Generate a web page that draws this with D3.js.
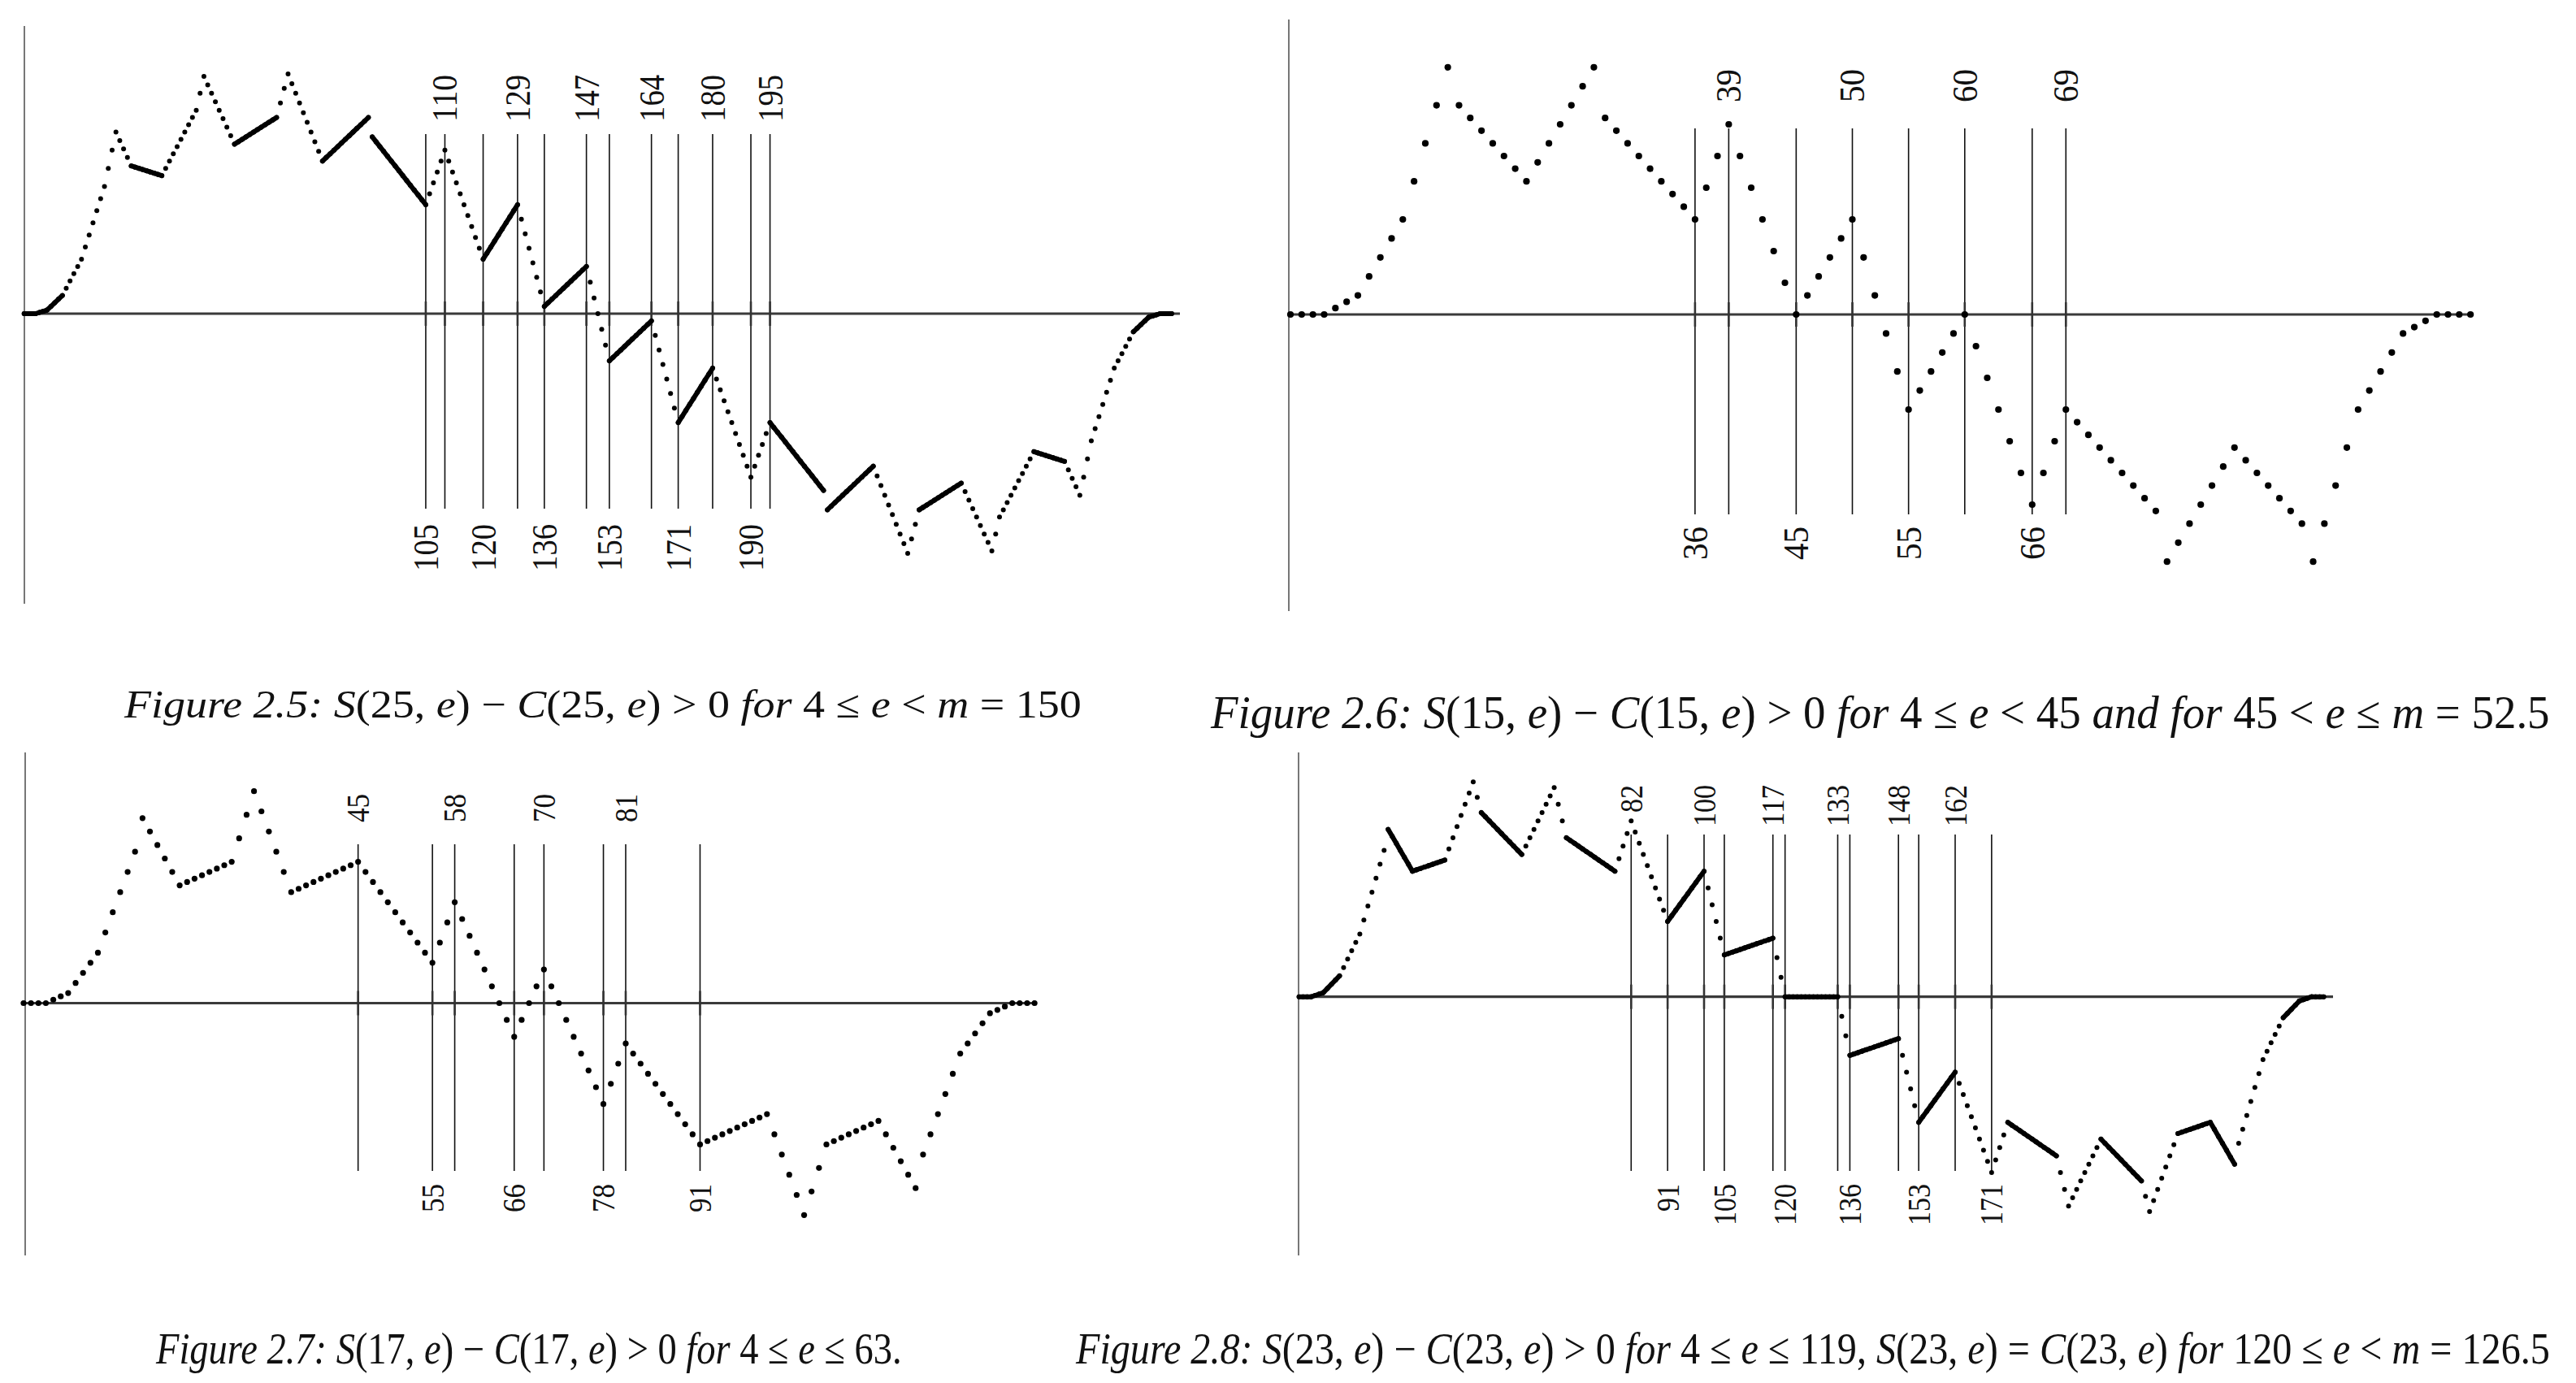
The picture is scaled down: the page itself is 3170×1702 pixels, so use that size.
<!DOCTYPE html>
<html>
<head>
<meta charset="utf-8">
<script src="https://cdn.jsdelivr.net/npm/d3@7"></script>
<style>
  body { margin: 0; background: #fff; }
  svg { display: block; }
</style>
</head>
<body>
<div id="chart"></div>
<script>
// S(n,e) - C(n,e), one value per integer e (index = e)
var fig25Values = [0,0,0,0,1,2,3,6,9,12,15,21,27,33,39,45,55,65,75,85,95,105,120,135,150,
  143,136,129,122,121,120,119,118,117,116,115,114,
  120,126,132,138,144,150,156,162,168,182,196,
  189,182,175,168,161,154,147,140,
  142,144,146,148,150,152,154,156,158,160,162,174,186,198,
  190,182,174,166,158,150,142,134,126,
  129,132,135,138,141,144,147,150,153,156,159,162,146,
  142,138,134,130,126,122,118,114,110,106,102,98,94,90,
  99,108,117,126,135,126,117,108,99,90,81,72,63,54,45,
  50,55,60,65,70,75,80,85,90,78,66,54,42,30,18,6,
  9,12,15,18,21,24,27,30,33,36,39,26,13,0,
  -13,-26,-39,-36,-33,-30,-27,-24,-21,-18,-15,-12,-9,-6,
  -18,-30,-42,-54,-66,-78,-90,-85,-80,-75,-70,-65,-60,-55,-50,-45,
  -54,-63,-72,-81,-90,-99,-108,-117,-126,-135,-126,-117,-108,-99,-90,
  -94,-98,-102,-106,-110,-114,-118,-122,-126,-130,-134,-138,-142,-146,
  -162,-159,-156,-153,-150,-147,-144,-141,-138,-135,-132,-129,-126,
  -134,-142,-150,-158,-166,-174,-182,-190,-198,-186,-174,
  -162,-160,-158,-156,-154,-152,-150,-148,-146,-144,-142,-140,
  -147,-154,-161,-168,-175,-182,-189,-196,-182,
  -168,-162,-156,-150,-144,-138,-132,-126,-120,-114,
  -115,-116,-117,-118,-119,-120,-121,-122,-129,-136,-143,-150,-135,-120,
  -105,-95,-85,-75,-65,-55,-45,-39,-33,-27,-21,-15,-12,-9,-6,-3,-2,-1,0,0,0,0];
var fig25Top = [110,129,147,164,180,195];
var fig25Bottom = [105,120,136,153,171,190];

var fig26Values = [0,0,0,0,1,2,3,6,9,12,15,21,27,33,39,
  33,31,29,27,25,23,21,24,27,30,33,36,39,
  31,29,27,25,23,21,19,17,15,20,25,30,25,20,15,10,5,0,
  3,6,9,12,15,9,3,-3,-9,-15,-12,-9,-6,-3,0,
  -5,-10,-15,-20,-25,-30,-25,-20,-15,-17,-19,-21,-23,-25,-27,-29,-31,-39,
  -36,-33,-30,-27,-24,-21,-23,-25,-27,-29,-31,-33,-39,
  -33,-27,-21,-15,-12,-9,-6,-3,-2,-1,0,0,0,0];
var fig26Top = [39,50,60,69];
var fig26Bottom = [36,45,55,66];

var fig27Values = [0,0,0,0,1,2,3,6,9,12,15,21,27,33,39,45,55,
  51,47,43,39,35,36,37,38,39,40,41,42,49,56,63,
  57,51,45,39,33,34,35,36,37,38,39,40,41,42,
  39,36,33,30,27,24,21,18,15,12,18,24,30,
  25,20,15,10,5,0,-5,-10,-5,0,
  5,10,5,0,-5,-10,-15,-20,-25,-30,-24,-18,-12,
  -15,-18,-21,-24,-27,-30,-33,-36,-39,-42,
  -41,-40,-39,-38,-37,-36,-35,-34,-33,-39,-45,-51,-57,-63,
  -56,-49,-42,-41,-40,-39,-38,-37,-36,-35,
  -39,-43,-47,-51,-55,-45,-39,-33,-27,-21,-15,-12,-9,-6,-3,-2,-1,0,0,0,0];
var fig27Top = [45,58,70,81];
var fig27Bottom = [55,66,78,91];

var fig28Values = [0,0,0,0,1,2,3,6,9,12,15,21,27,33,39,45,55,65,75,85,95,105,120,
  115,110,105,100,95,90,91,92,93,94,95,96,97,98,
  106,114,122,130,138,146,154,143,132,
  129,126,123,120,117,114,111,108,105,102,
  108,114,120,126,132,138,144,150,138,126,114,
  112,110,108,106,104,102,100,98,96,94,92,90,
  99,108,117,126,118,110,102,94,86,78,70,62,54,
  58,62,66,70,74,78,82,86,90,78,66,54,42,30,
  31,32,33,34,35,36,37,38,39,40,41,42,28,14,
  0,0,0,0,0,0,0,
  0,0,0,0,0,0,0,-14,-28,-42,
  -41,-40,-39,-38,-37,-36,-35,-34,-33,-32,-31,-30,
  -42,-54,-66,-78,-90,-86,-82,-78,-74,-70,-66,-62,-58,-54,
  -62,-70,-78,-86,-94,-102,-110,-118,-126,-117,-108,-99,-90,
  -92,-94,-96,-98,-100,-102,-104,-106,-108,-110,-112,-114,
  -126,-138,-150,-144,-138,-132,-126,-120,-114,-108,-102,
  -105,-108,-111,-114,-117,-120,-123,-126,-129,-132,-143,-154,
  -146,-138,-130,-122,-114,-106,-98,-97,-96,-95,-94,-93,-92,-91,-90,
  -95,-100,-105,-110,-115,-120,-105,-95,-85,-75,-65,-55,-45,
  -39,-33,-27,-21,-15,-12,-9,-6,-3,-2,-1,0,0,0,0];
var fig28Top = [82,100,117,133,148,162];
var fig28Bottom = [91,105,120,136,153,171];

var captions = [
  "Figure 2.5: S(25, e) \u2212 C(25, e) > 0 for 4 \u2264 e < m = 150",
  "Figure 2.6: S(15, e) \u2212 C(15, e) > 0 for 4 \u2264 e < 45 and for 45 < e \u2264 m = 52.5",
  "Figure 2.7: S(17, e) \u2212 C(17, e) > 0 for 4 \u2264 e \u2264 63.",
  "Figure 2.8: S(23, e) \u2212 C(23, e) > 0 for 4 \u2264 e \u2264 119, S(23, e) = C(23, e) for 120 \u2264 e < m = 126.5"
];

var svg = d3.select("#chart").append("svg")
    .attr("width", 3170)
    .attr("height", 1702);

// layout of each panel, in page pixels
var panels = [
  { values: fig25Values, top: fig25Top, bottom: fig25Bottom, caption: captions[0],
    x0: 29.7, dx: 4.707, axisY: 386, dy: 1.49, lineTop: 165, lineBottom: 626,
    axisX: 30, axisTop: 32, axisBottom: 743, axisRight: 1452,
    r: 3.0, join: 9.4, labelTop: 92, labelBottom: 645, fontSize: 44, digit: 19.3,
    capX: 153, capY: 883, capW: 1178, capSize: 48 },
  { values: fig26Values, top: fig26Top, bottom: fig26Bottom, caption: captions[1],
    x0: 1588, dx: 13.83, axisY: 387, dy: 7.8, lineTop: 158, lineBottom: 633,
    axisX: 1586, axisTop: 24, axisBottom: 752, axisRight: 3042,
    r: 4.1, join: 0, labelTop: 85, labelBottom: 648, fontSize: 44, digit: 20.5,
    capX: 1490, capY: 896, capW: 1648, capSize: 56 },
  { values: fig27Values, top: fig27Top, bottom: fig27Bottom, caption: captions[2],
    x0: 29, dx: 9.148, axisY: 1234.5, dy: 4.14, lineTop: 1039, lineBottom: 1441,
    axisX: 31, axisTop: 926, axisBottom: 1545, axisRight: 1276,
    r: 3.6, join: 0, labelTop: 977, labelBottom: 1457, fontSize: 40, digit: 17.5,
    capX: 192, capY: 1678, capW: 918, capSize: 54 },
  { values: fig28Values, top: fig28Top, bottom: fig28Bottom, caption: captions[3],
    x0: 1598.6, dx: 4.984, axisY: 1226.7, dy: 1.717, lineTop: 1027, lineBottom: 1441,
    axisX: 1598, axisTop: 926, axisBottom: 1545, axisRight: 2871,
    r: 3.0, join: 10.7, labelTop: 966, labelBottom: 1457, fontSize: 40, digit: 17,
    capX: 1324, capY: 1678, capW: 1814, capSize: 54 }
];

panels.forEach(drawPanel);

function drawPanel(p) {
  var n = p.values.length;
  var x = d3.scaleLinear().domain([0, n - 1]).range([p.x0, p.x0 + p.dx * (n - 1)]);
  var y = d3.scaleLinear().domain([-200, 200]).range([p.axisY + 200 * p.dy, p.axisY - 200 * p.dy]);
  var g = svg.append("g");

  // left axis
  g.append("line")
      .attr("x1", p.axisX).attr("x2", p.axisX)
      .attr("y1", p.axisTop).attr("y2", p.axisBottom)
      .attr("stroke", "#555").attr("stroke-width", 1.6);

  // zero line
  g.append("line")
      .attr("x1", p.axisX).attr("x2", p.axisRight)
      .attr("y1", y(0)).attr("y2", y(0))
      .attr("stroke", "#3a3a3a").attr("stroke-width", 3.2);

  // marked values of e
  var marks = p.top.concat(p.bottom);
  g.selectAll("line.mark").data(marks).enter().append("line")
      .attr("class", "mark")
      .attr("x1", function(d) { return x(d); })
      .attr("x2", function(d) { return x(d); })
      .attr("y1", p.lineTop).attr("y2", p.lineBottom)
      .attr("stroke", "#111").attr("stroke-width", 1.6);
  g.selectAll("line.tick").data(marks).enter().append("line")
      .attr("class", "tick")
      .attr("x1", function(d) { return x(d); })
      .attr("x2", function(d) { return x(d); })
      .attr("y1", y(0) - 15).attr("y2", y(0) + 15)
      .attr("stroke", "#333").attr("stroke-width", 2.6);

  function label(list, yPos) {
    g.selectAll(null).data(list).enter().append("text")
        .attr("transform", function(d) { return "translate(" + x(d) + "," + yPos + ") rotate(-90)"; })
        .attr("text-anchor", "end")
        .attr("dy", "0.34em")
        .attr("textLength", function(d) { return String(d).length * p.digit; })
        .attr("lengthAdjust", "spacingAndGlyphs")
        .style("font-family", "'Liberation Serif', 'DejaVu Serif', serif")
        .style("font-size", p.fontSize + "px")
        .style("fill", "#111")
        .text(function(d) { return d; });
  }
  label(p.top, p.labelTop);
  label(p.bottom, p.labelBottom);

  // points close together run into a solid stroke
  var pts = p.values.map(function(v, i) { return [x(i), y(v)]; });
  var joins = d3.pairs(pts).filter(function(pr) {
    var ddx = pr[1][0] - pr[0][0], ddy = pr[1][1] - pr[0][1];
    return Math.sqrt(ddx * ddx + ddy * ddy) < p.join;
  });
  g.selectAll("line.join").data(joins).enter().append("line")
      .attr("class", "join")
      .attr("x1", function(d) { return d[0][0]; })
      .attr("y1", function(d) { return d[0][1]; })
      .attr("x2", function(d) { return d[1][0]; })
      .attr("y2", function(d) { return d[1][1]; })
      .attr("stroke", "#000").attr("stroke-width", p.r * 2)
      .attr("stroke-linecap", "round");

  g.selectAll("circle").data(p.values).enter().append("circle")
      .attr("cx", function(d, i) { return x(i); })
      .attr("cy", function(d) { return y(d); })
      .attr("r", p.r)
      .attr("fill", "#000");

  // caption, with italic words and math letters; squeezed to the printed width
  var cap = g.append("text")
      .style("font-family", "'Liberation Serif', 'DejaVu Serif', serif")
      .style("font-size", p.capSize + "px")
      .style("fill", "#111");
  var parts = p.caption.split(/(Figure \d\.\d:|\bfor\b|\band\b|\b[SCem]\b)/);
  parts.forEach(function(t, i) {
    if (!t) return;
    cap.append("tspan")
        .style("font-style", i % 2 ? "italic" : "normal")
        .text(t);
  });
  var w = cap.node().getComputedTextLength();
  cap.attr("transform", "translate(" + p.capX + "," + p.capY + ") scale(" + (p.capW / w) + ",1)");
}
</script>
</body>
</html>
